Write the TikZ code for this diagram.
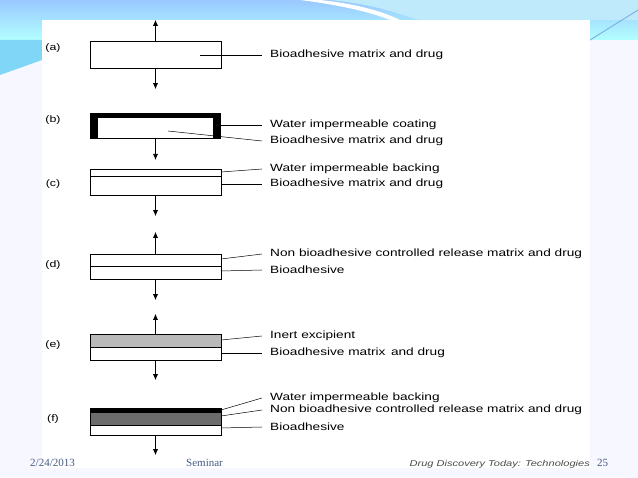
\documentclass[tikz,border=0pt]{standalone}
\usepackage{fontspec}
\setmainfont{Liberation Sans}
\newfontfamily\widefont[FakeStretch=1.3]{Liberation Sans}
\newfontfamily\footfont{Liberation Serif}
\begin{document}
\begin{tikzpicture}[x=1pt,y=-1pt,
  lbl/.style={anchor=west,inner sep=0pt,font=\widefont\fontsize{10.5}{12}\selectfont},
  tag/.style={anchor=center,inner sep=0pt,font=\widefont\fontsize{9.5}{10}\selectfont},
  arr/.style={-{Latex[length=6pt,width=5pt]},line width=0.7pt},
  lead/.style={line width=0.5pt},
  foot/.style={inner sep=0pt,text=cyan!40!blue!60!black,font=\footfont\fontsize{11}{12}\selectfont}]
\usetikzlibrary{arrows.meta}
\useasboundingbox (0,0) rectangle (638,478);
% background
\fill[blue!3!white] (0,0) rectangle (638,478);
\shade[top color=cyan!45!blue!40,bottom color=cyan!30] (0,0) rectangle (638,40);
\fill[cyan!25!white] (330,0) .. controls (380,5) and (400,15) .. (420,20) -- (638,20) -- (638,0) -- cycle;
\fill[white] (300,0) .. controls (340,5) and (370,12) .. (390,20) -- (400,20) .. controls (380,10) and (350,3) .. (320,0) -- cycle;
\fill[cyan!50!white] (0,40) -- (42,40) -- (42,60) -- (0,75) -- cycle;
\draw[cyan!60!blue!50,line width=1pt] (590,40) -- (638,10);
\fill[white] (42,20) rectangle (590,468);
% (a)
\node[tag] (la) at (53,48) {(a)};
\node[draw,minimum width=131,minimum height=27,inner sep=0pt] (ba) at (155.5,54.5) {};
\draw[arr] (ba.north) -- ++(0,-21);
\draw[arr] (ba.south) -- ++(0,21);
\node[lbl] (ta) at (270,55) {Bioadhesive matrix and drug};
\draw[lead] (200,55) -- ([xshift=-8pt]ta.west);
% (b)
\node[tag] (lb) at (53,120) {(b)};
\coordinate (bl) at (90,138); \coordinate (br) at (221,138);
\fill (90,113) rectangle (221,118);
\fill (90,113) rectangle (98,138);
\fill (213,113) rectangle (221,138);
\draw[lead] (bl) -- (br);
\coordinate (bb) at (155.5,138);
\draw[arr] (bb) -- ++(0,22);
\node[lbl] (tb1) at (270,125) {Water impermeable coating};
\node[lbl] (tb2) at (270,141) {Bioadhesive matrix and drug};
\draw[lead] (221,125) -- ([xshift=-8pt]tb1.west);
\draw[lead] (168,131) -- ([xshift=-8pt]tb2.west);
% (c)
\node[tag] (lc) at (53,184) {(c)};
\node[draw,minimum width=131,minimum height=26,inner sep=0pt] (bc) at (155.5,182) {};
\draw[lead] (90,176) -- (221,176);
\draw[arr] (bc.south) -- ++(0,21);
\node[lbl] (tc1) at (270,169) {Water impermeable backing};
\node[lbl] (tc2) at (270,184) {Bioadhesive matrix and drug};
\draw[lead] (221,172) -- ([xshift=-8pt]tc1.west);
\draw[lead] (221,184) -- ([xshift=-8pt]tc2.west);
% (d)
\node[tag] (ld) at (53,265) {(d)};
\node[draw,minimum width=131,minimum height=25,inner sep=0pt] (bd) at (155.5,266.5) {};
\draw[lead] (90,266) -- (221,266);
\draw[arr] (bd.north) -- ++(0,-22);
\draw[arr] (bd.south) -- ++(0,21);
\node[lbl] (td1) at (270,254) {Non bioadhesive controlled release matrix and drug};
\node[lbl] (td2) at (270,270) {Bioadhesive};
\draw[lead] (221,259) -- ([xshift=-8pt]td1.west);
\draw[lead] (221,271) -- ([xshift=-8pt]td2.west);
% (e)
\node[tag] (le) at (53,345) {(e)};
\fill[gray!55] (90,334) rectangle (221,347);
\node[draw,minimum width=131,minimum height=26,inner sep=0pt] (be) at (155.5,347) {};
\draw[lead] (90,347) -- (221,347);
\draw[arr] (be.north) -- ++(0,-20);
\draw[arr] (be.south) -- ++(0,20);
\node[lbl] (te1) at (270,336) {Inert excipient};
\node[lbl] (te2) at (270,353) {Bioadhesive matrix\, and drug};
\draw[lead] (221,340) -- ([xshift=-8pt]te1.west);
\draw[lead] (221,353) -- ([xshift=-8pt]te2.west);
% (f)
\node[tag] (lf) at (53,419) {(f)};
\fill[gray!85!black] (90,413) rectangle (221,425);
\fill (90,408) rectangle (221,413);
\node[draw,minimum width=131,minimum height=27,inner sep=0pt] (bf) at (155.5,421.5) {};
\draw[lead] (90,425) -- (221,425);
\draw[arr] (bf.south) -- ++(0,20);
\node[lbl] (tf1) at (270,398) {Water impermeable backing};
\node[lbl] (tf2) at (270,410) {Non bioadhesive controlled release matrix and drug};
\node[lbl] (tf3) at (270,427) {Bioadhesive};
\draw[lead] (221,410) -- ([xshift=-8pt]tf1.west);
\draw[lead] (221,416) -- ([xshift=-8pt]tf2.west);
\draw[lead] (221,428) -- ([xshift=-8pt]tf3.west);
% footer
\node[foot,anchor=west] (date) at (30,463) {2/24/2013};
\node[foot,anchor=west] (sem) at (186,463) {Seminar};
\node[inner sep=0pt,anchor=east,font=\widefont\itshape\fontsize{8.5}{10}\selectfont,text=black!70] (src) at (590,464) {Drug Discovery Today: Technologies};
\node[foot,anchor=west] (pg) at (597,463) {25};
\end{tikzpicture}
\end{document}
